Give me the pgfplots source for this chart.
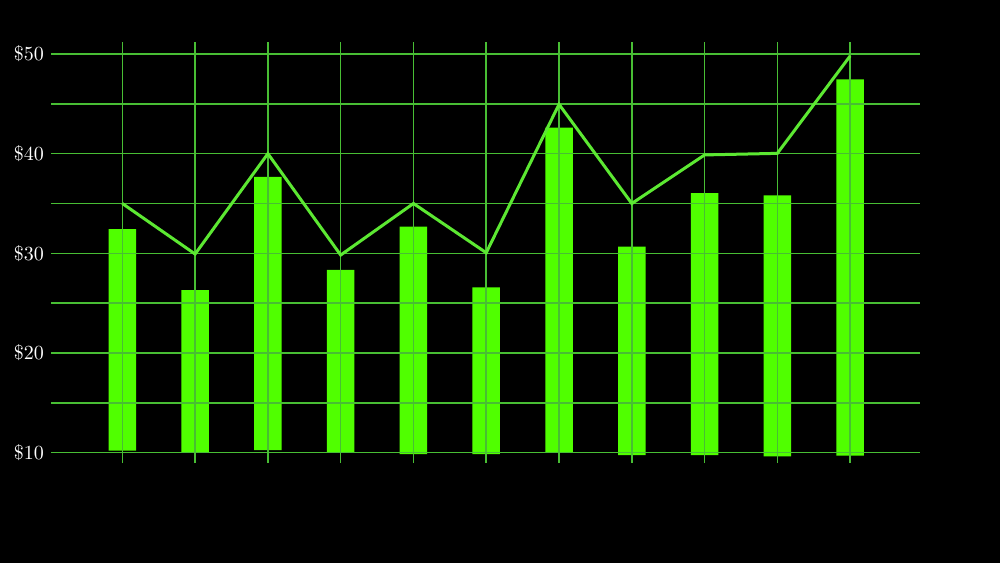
\documentclass[border=0pt]{standalone}
\usepackage{pgfplots}
\pgfplotsset{compat=1.18}
\definecolor{gridgreen}{RGB}{72,190,52}
\definecolor{bargreen}{RGB}{80,255,0}
\definecolor{linegreen}{RGB}{92,232,50}
\begin{document}
\begin{tikzpicture}
\useasboundingbox (0,0) rectangle (500pt,281.5pt);
\fill[black] (0,0) rectangle (500pt,281.5pt);
\pgfplotsset{commonax/.style={
  at={(25.5pt,50pt)}, anchor=south west,
  scale only axis, width=434.5pt, height=210.5pt,
  xmin=-0.98, xmax=10.96, ymin=8.97, ymax=51.2}}
\begin{axis}[commonax,
  ybar stacked, bar width=13.75pt,
  axis on top,
  axis line style={draw=none},
  tick style={draw=none},
  xtick={0,1,...,10}, xticklabel={},
  ytick={10,15,...,50},
  yticklabels={\$10,,\$20,,\$30,,\$40,,\$50},
  yticklabel style={text=white, font=\fontsize{10}{12}\selectfont},
  xmajorgrids, ymajorgrids,
  grid style={gridgreen, line width=0.75pt},
]
\addplot[draw=none, fill=none] coordinates {
  (0,10.20) (1,10.00) (2,10.27) (3,10.00) (4,9.87) (5,9.87)
  (6,10.07) (7,9.77) (8,9.77) (9,9.64) (10,9.70)};
\addplot[draw=none, fill=bargreen] coordinates {
  (0,22.24) (1,16.32) (2,27.39) (3,18.33) (4,22.80) (5,16.72)
  (6,32.53) (7,20.90) (8,26.28) (9,26.18) (10,37.75)};
\end{axis}
\begin{axis}[commonax, hide axis]
\addplot[linegreen, line width=1.5pt, mark=none] coordinates {
  (0,35.0) (1,29.93) (2,40.0) (3,29.83) (4,35.0) (5,30.06)
  (6,44.95) (7,35.0) (8,39.87) (9,40.03) (10,49.8)};
\end{axis}
\end{tikzpicture}
\end{document}
